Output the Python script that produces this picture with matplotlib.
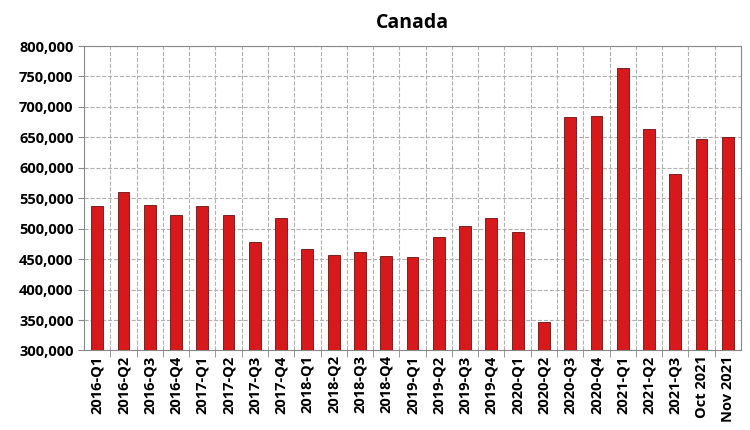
import numpy as np
import matplotlib.pyplot as plt
from matplotlib.ticker import FuncFormatter

periods = ['2016-Q1', '2016-Q2', '2016-Q3', '2016-Q4', '2017-Q1', '2017-Q2', '2017-Q3',
           '2017-Q4', '2018-Q1', '2018-Q2', '2018-Q3', '2018-Q4', '2019-Q1', '2019-Q2',
           '2019-Q3', '2019-Q4', '2020-Q1', '2020-Q2', '2020-Q3', '2020-Q4', '2021-Q1',
           '2021-Q2', '2021-Q3', 'Oct 2021', 'Nov 2021']
values = [538000, 560000, 539000, 522000, 538000, 523000, 478000, 518000, 467000,
          457000, 462000, 455000, 453000, 487000, 504000, 517000, 494000, 347000,
          683000, 685000, 764000, 664000, 589000, 647000, 651000]

plt.rcParams['font.family'] = ['Open Sans', 'DejaVu Sans']
plt.rcParams['font.weight'] = 'bold'

fig = plt.figure(figsize=(7.5, 4.3), dpi=100)
ax = fig.add_axes([0.112, 0.185, 0.876, 0.708])

x = np.arange(len(periods))
ax.bar(x, values, width=0.45, color='#d7191c', edgecolor='#6b1010', linewidth=0.6, zorder=3)

ax.set_xlim(-0.5, len(periods) - 0.5)
ax.set_ylim(300000, 800000)
ax.set_yticks(np.arange(300000, 800001, 50000))
ax.yaxis.set_major_formatter(FuncFormatter(lambda v, p: f'{int(v):,}'))
ax.set_xticks(x)
ax.set_xticklabels(periods, rotation=90, fontsize=10.5, fontweight='bold')
ax.tick_params(axis='y', labelsize=10.5, length=4, color='#888888')
ax.tick_params(axis='x', length=0)

# dashed grid, vertical lines between categories
ax.set_xticks(x[:-1] + 0.5, minor=True)
ax.tick_params(axis='x', which='minor', length=5, color='#888888', direction='out')
ax.grid(axis='y', which='major', ls='--', color='#b0b0b0', lw=0.8, zorder=0)
ax.grid(axis='x', which='minor', ls='--', color='#b0b0b0', lw=0.8, zorder=0)
for s in ax.spines.values():
    s.set_color('#888888')

fig.text(0.55, 0.935, 'Canada', ha='center', fontsize=14, fontweight='bold')

fig.savefig('out.png', dpi=100)
